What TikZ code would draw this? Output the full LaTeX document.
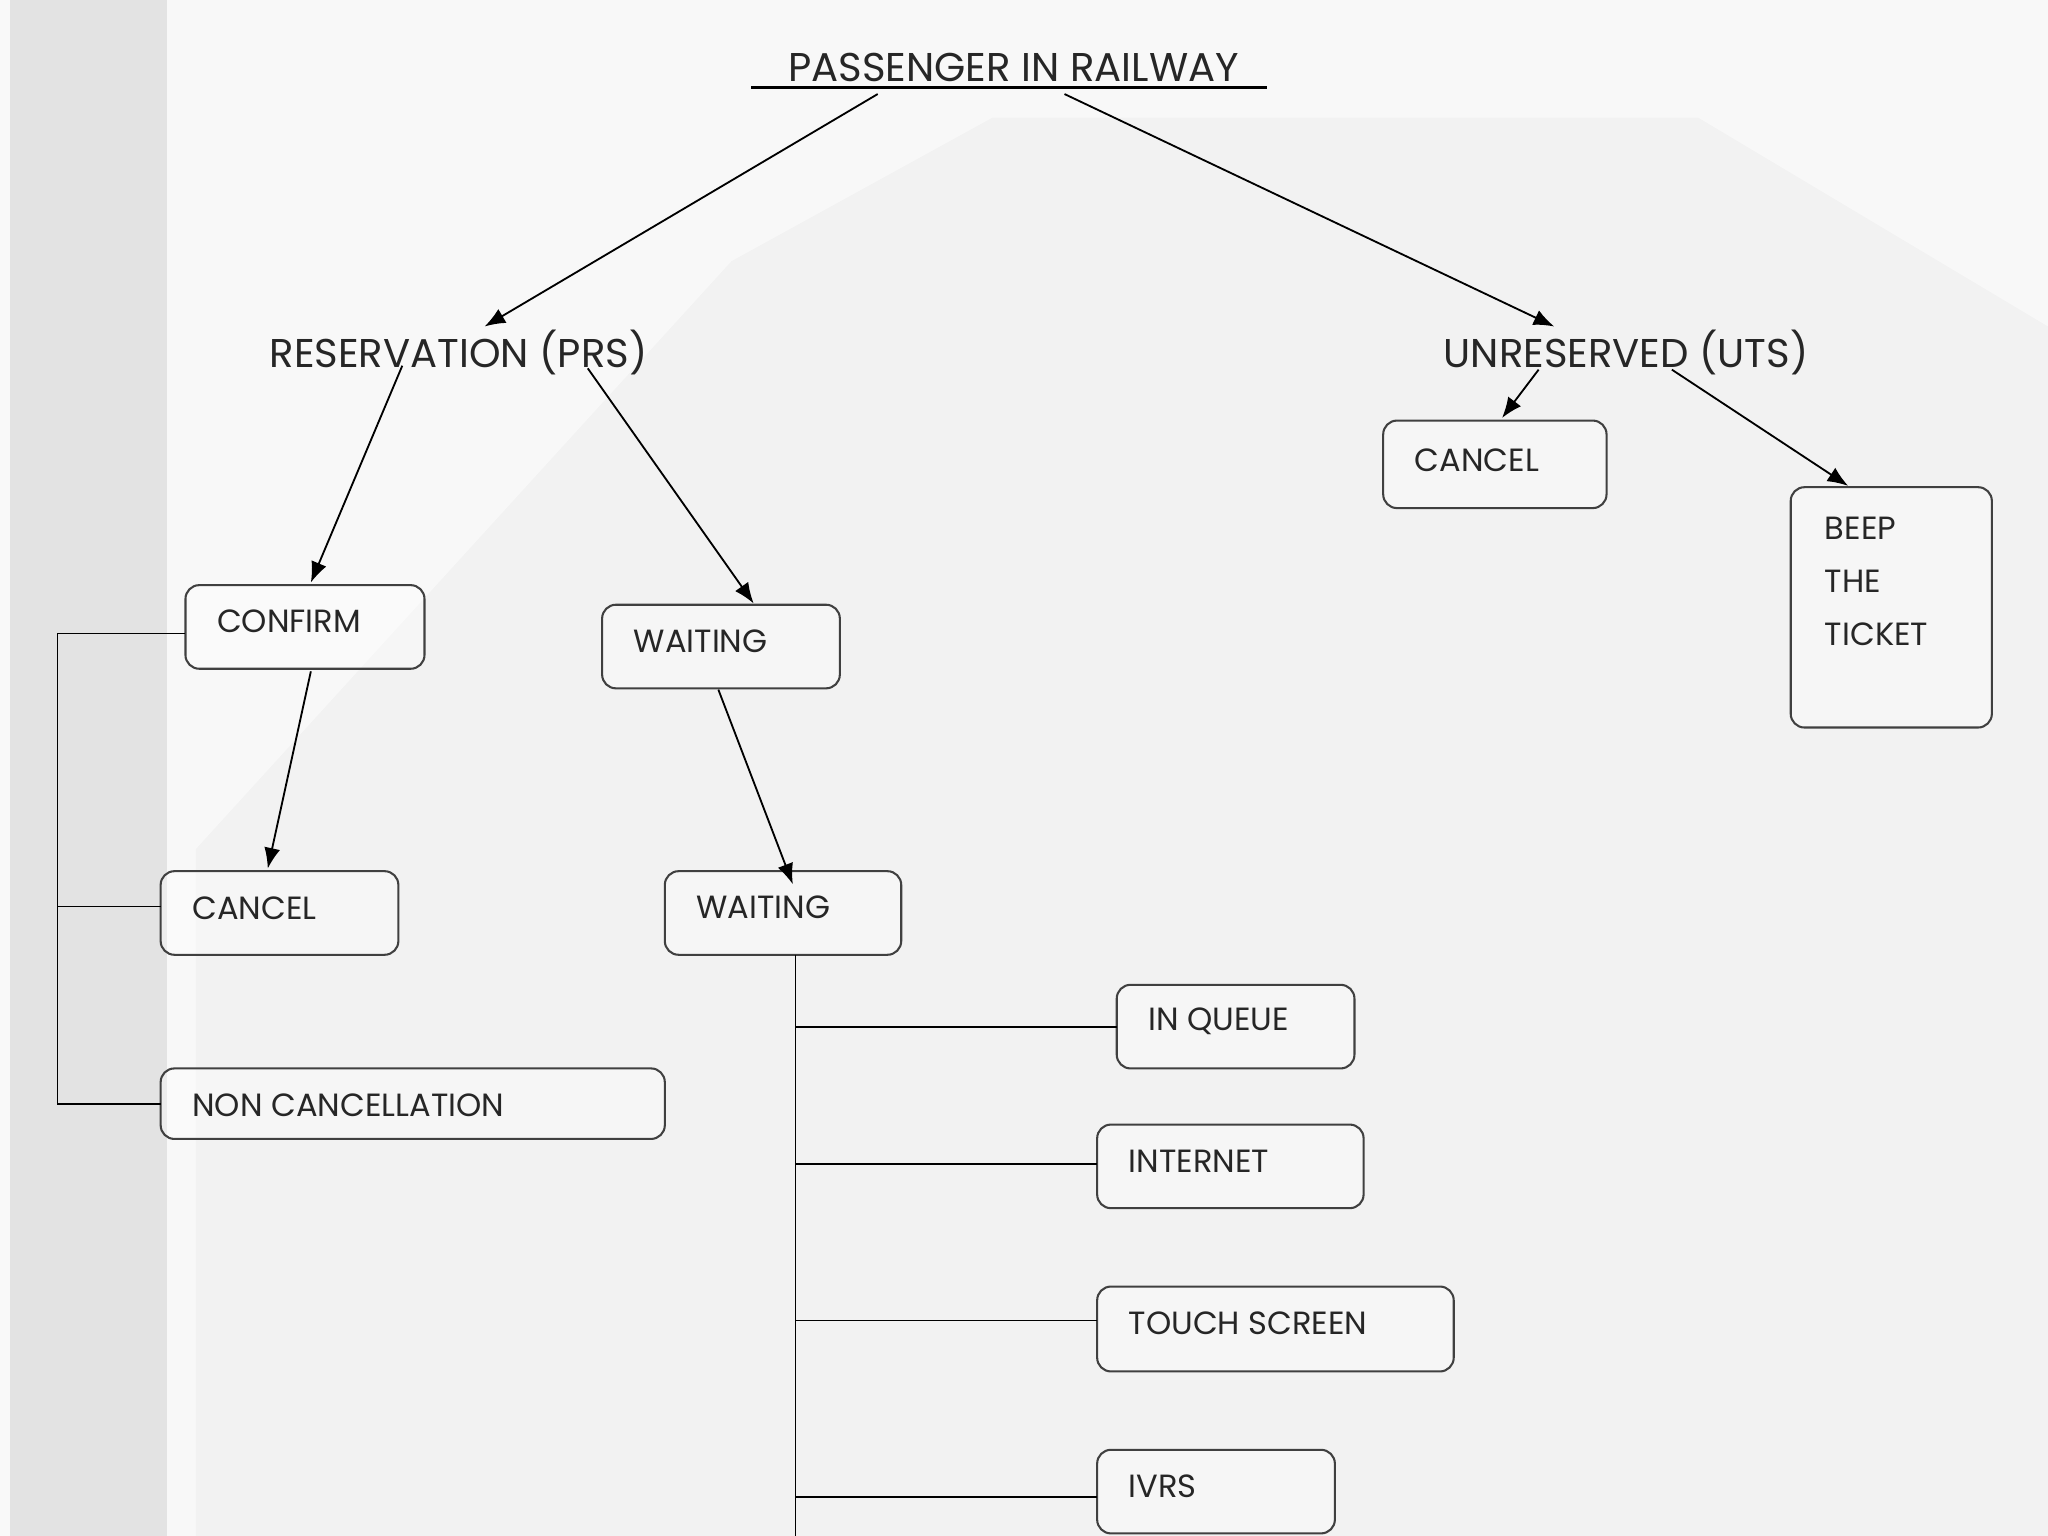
\documentclass[tikz,border=0pt]{standalone}
\usepackage{fontspec}
\setmainfont{Poppins}
\usetikzlibrary{arrows.meta}
\begin{document}
\begin{tikzpicture}[x=0.02cm,y=-0.02cm,
  bx/.style={draw=black!75,line width=0.9pt,rounded corners=6pt,fill=white,fill opacity=0.35,text opacity=1},
  lbl/.style={anchor=west,font=\fontsize{14}{17}\selectfont,text=black!85},
  ttl/.style={font=\fontsize{17.5}{21}\selectfont,text=black!85},
  ar/.style={-{Latex[length=9pt,width=7pt]},line width=0.8pt},
  ln/.style={line width=0.8pt}]
\useasboundingbox (0,0) rectangle (1568,1176);
\fill[gray!9] (0,0) rectangle (1568,1176);
\fill[gray!18] (560,200) -- (760,90) -- (1300,90) -- (1568,250) -- (1568,1176) -- (150,1176) -- (150,650) -- cycle;
\fill[white,opacity=0.45] (0,0) rectangle (1568,1176);
\fill[gray!22] (8,0) rectangle (128,1176);
\fill[gray!5] (0,0) rectangle (8,1176);
% boxes
\draw[bx] (142,448) rectangle (325,512); \node[lbl] (confirm) at (160,476) {CONFIRM};
\draw[bx] (461,463) rectangle (643,527); \node[lbl] (wait1) at (479,491) {WAITING};
\draw[bx] (123,667) rectangle (305,731); \node[lbl] (cancelL) at (141,695) {CANCEL};
\draw[bx] (509,667) rectangle (690,731); \node[lbl] (wait2) at (527,695) {WAITING};
\draw[bx] (123,818) rectangle (509,872); \node[lbl] (noncan) at (141,846) {NON CANCELLATION};
\draw[bx] (1059,322) rectangle (1230,389); \node[lbl] (cancelR) at (1077,352) {CANCEL};
\draw[bx] (1371,373) rectangle (1525,557);
\node[lbl,align=left,font=\fontsize{14}{23}\selectfont] (beep) at (1391,445) {BEEP\\THE\\TICKET};
\draw[bx] (855,754) rectangle (1037,818); \node[lbl] (queue) at (873,782) {IN QUEUE};
\draw[bx] (840,861) rectangle (1044,925); \node[lbl] (inet) at (858,889) {INTERNET};
\draw[bx] (840,985) rectangle (1113,1050); \node[lbl] (touch) at (858,1013) {TOUCH SCREEN};
\draw[bx] (840,1110) rectangle (1022,1174); \node[lbl] (ivrs) at (858,1138) {IVRS};
% titles
\node[ttl] (root) at (776,52) {PASSENGER IN RAILWAY};
\draw[line width=0.9pt] (575,67) -- (970,67);
\node[ttl] (prs) at (351,270) {RESERVATION (PRS)};
\node[ttl] (uts) at (1245,270) {UNRESERVED (UTS)};
% arrows
\coordinate (r1) at (672,72); \coordinate (r2) at (815,72);
\coordinate (p1) at (371,250); \coordinate (u1) at (1190,250);
\draw[ar] (r1) -- (p1);
\draw[ar] (r2) -- (u1);
\coordinate (pa) at (308,280); \coordinate (pb) at (450,282);
\coordinate (cf) at (238,446); \coordinate (wt) at (577,462);
\draw[ar] (pa) -- (cf); \draw[ar] (pb) -- (wt);
\coordinate (ua) at (1178,283); \coordinate (ub) at (1280,283);
\coordinate (cr) at (1150,320); \coordinate (bp) at (1415,372);
\draw[ar] (ua) -- (cr); \draw[ar] (ub) -- (bp);
\coordinate (cb) at (238,514); \coordinate (cl) at (205,665);
\draw[ar] (cb) -- (cl);
\coordinate (wb) at (550,528); \coordinate (w2) at (607,677);
\draw[ar] (wb) -- (w2);
% bracket left
\coordinate (cw) at (142,485); \coordinate (lw) at (123,694); \coordinate (nw) at (123,845);
\draw[ln] (cw) -- (44,485) -- (44,845) -- (nw);
\draw[ln] (44,694) -- (lw);
% right tree
\coordinate (w2b) at (609,731);
\draw[ln] (w2b) -- (609,1176);
\coordinate (q) at (855,786); \coordinate (i) at (840,891); \coordinate (t) at (840,1011); \coordinate (v) at (840,1146);
\draw[ln] (609,786) -- (q); \draw[ln] (609,891) -- (i);
\draw[ln] (609,1011) -- (t); \draw[ln] (609,1146) -- (v);
\end{tikzpicture}
\end{document}
